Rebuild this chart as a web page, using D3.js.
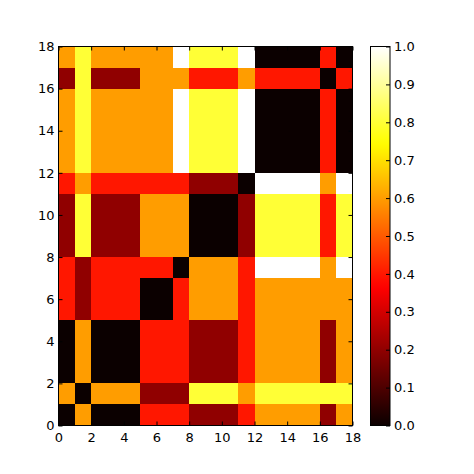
<!DOCTYPE html>
<html>
<head>
<meta charset="utf-8">
<script src="https://cdn.jsdelivr.net/npm/d3@7"></script>
<style>
  body { margin: 0; background: #fff; }
  text { font-family: "DejaVu Sans", sans-serif; font-size: 13px; fill: #000; }
</style>
</head>
<body>
<div id="chart"></div>
<script>
// Cell values, listed from the top row (y = 17) down to the bottom row (y = 0)
const rowsTopDown = [
  [.6, .8, .6, .6, .6, .6, .6, 1, .8, .8, .8, 1, 0, 0, 0, 0, .4, 0],
  [.2, .8, .2, .2, .2, .6, .6, .6, .4, .4, .4, .6, .4, .4, .4, .4, 0, .4],
  [.6, .8, .6, .6, .6, .6, .6, 1, .8, .8, .8, 1, 0, 0, 0, 0, .4, 0],
  [.6, .8, .6, .6, .6, .6, .6, 1, .8, .8, .8, 1, 0, 0, 0, 0, .4, 0],
  [.6, .8, .6, .6, .6, .6, .6, 1, .8, .8, .8, 1, 0, 0, 0, 0, .4, 0],
  [.6, .8, .6, .6, .6, .6, .6, 1, .8, .8, .8, 1, 0, 0, 0, 0, .4, 0],
  [.4, .6, .4, .4, .4, .4, .4, .4, .2, .2, .2, 0, 1, 1, 1, 1, .6, 1],
  [.2, .8, .2, .2, .2, .6, .6, .6, 0, 0, 0, .2, .8, .8, .8, .8, .4, .8],
  [.2, .8, .2, .2, .2, .6, .6, .6, 0, 0, 0, .2, .8, .8, .8, .8, .4, .8],
  [.2, .8, .2, .2, .2, .6, .6, .6, 0, 0, 0, .2, .8, .8, .8, .8, .4, .8],
  [.4, .2, .4, .4, .4, .4, .4, 0, .6, .6, .6, .4, 1, 1, 1, 1, .6, 1],
  [.4, .2, .4, .4, .4, 0, 0, .4, .6, .6, .6, .4, .6, .6, .6, .6, .6, .6],
  [.4, .2, .4, .4, .4, 0, 0, .4, .6, .6, .6, .4, .6, .6, .6, .6, .6, .6],
  [0, .6, 0, 0, 0, .4, .4, .4, .2, .2, .2, .4, .6, .6, .6, .6, .2, .6],
  [0, .6, 0, 0, 0, .4, .4, .4, .2, .2, .2, .4, .6, .6, .6, .6, .2, .6],
  [0, .6, 0, 0, 0, .4, .4, .4, .2, .2, .2, .4, .6, .6, .6, .6, .2, .6],
  [.6, 0, .6, .6, .6, .2, .2, .2, .8, .8, .8, .6, .8, .8, .8, .8, .8, .8],
  [0, .6, 0, 0, 0, .4, .4, .4, .2, .2, .2, .4, .6, .6, .6, .6, .2, .6]
];
const axisTicks = [0, 2, 4, 6, 8, 10, 12, 14, 16, 18];
const colorbarTicks = [0, .1, .2, .3, .4, .5, .6, .7, .8, .9, 1];

// matplotlib "hot" colormap
function hot(v) {
  const r = Math.min(1, 0.0416 + (1 - 0.0416) * v / 0.365079);
  const g = Math.max(0, Math.min(1, (v - 0.365079) / (0.746032 - 0.365079)));
  const b = Math.max(0, Math.min(1, (v - 0.746032) / (1 - 0.746032)));
  return d3.rgb(r * 255, g * 255, b * 255).formatHex();
}

const W = 474, H = 474;
const plot = { left: 58.5, right: 352.5, top: 46.5, bottom: 425.5 };
const cbar = { left: 370.5, right: 390, top: 46.5, bottom: 425.5 };

const svg = d3.select('#chart').append('svg')
  .attr('width', W).attr('height', H);

const n = rowsTopDown.length;
const x = d3.scaleLinear().domain([0, n]).range([plot.left, plot.right]);
const y = d3.scaleLinear().domain([0, n]).range([plot.bottom, plot.top]);

const cells = [];
rowsTopDown.forEach((row, i) => {
  const yi = n - 1 - i;
  row.forEach((v, xi) => cells.push({ xi, yi, v }));
});

svg.append('g')
  .attr('shape-rendering', 'crispEdges')
  .selectAll('rect')
  .data(cells)
  .join('rect')
  .attr('x', d => x(d.xi))
  .attr('y', d => y(d.yi + 1))
  .attr('width', d => x(d.xi + 1) - x(d.xi) + 0.5)
  .attr('height', d => y(d.yi) - y(d.yi + 1) + 0.5)
  .attr('fill', d => hot(d.v));

// Axes with inward ticks on all four sides
function styleAxis(g) {
  g.select('.domain').remove();
  g.selectAll('.tick line').attr('stroke', '#000');
  g.selectAll('text').style('font-family', '"DejaVu Sans", sans-serif').style('font-size', '13px');
}

svg.append('g')
  .attr('transform', `translate(0,${plot.bottom})`)
  .call(d3.axisBottom(x).tickValues(axisTicks).tickSize(-4).tickPadding(7).tickFormat(d3.format('d')))
  .call(styleAxis);
svg.append('g')
  .attr('transform', `translate(0,${plot.top})`)
  .call(d3.axisTop(x).tickValues(axisTicks).tickSize(-4).tickFormat(''))
  .call(styleAxis);
svg.append('g')
  .attr('transform', `translate(${plot.left},0)`)
  .call(d3.axisLeft(y).tickValues(axisTicks).tickSize(-4).tickPadding(4).tickFormat(d3.format('d')))
  .call(styleAxis);
svg.append('g')
  .attr('transform', `translate(${plot.right},0)`)
  .call(d3.axisRight(y).tickValues(axisTicks).tickSize(-4).tickFormat(''))
  .call(styleAxis);

svg.append('rect')
  .attr('x', plot.left).attr('y', plot.top)
  .attr('width', plot.right - plot.left).attr('height', plot.bottom - plot.top)
  .attr('fill', 'none').attr('stroke', '#000').attr('stroke-width', 1);

// Colorbar
const grad = svg.append('defs').append('linearGradient')
  .attr('id', 'hotGrad').attr('x1', 0).attr('y1', 1).attr('x2', 0).attr('y2', 0);
grad.selectAll('stop')
  .data(d3.range(0, 1.0001, 0.02))
  .join('stop')
  .attr('offset', d => d)
  .attr('stop-color', d => hot(d));

svg.append('rect')
  .attr('x', cbar.left).attr('y', cbar.top)
  .attr('width', cbar.right - cbar.left).attr('height', cbar.bottom - cbar.top)
  .attr('fill', 'url(#hotGrad)');

const cy = d3.scaleLinear().domain([0, 1]).range([cbar.bottom, cbar.top]);
svg.append('g')
  .attr('transform', `translate(${cbar.right},0)`)
  .call(d3.axisRight(cy).tickValues(colorbarTicks).tickSize(-4).tickPadding(4).tickFormat(d3.format('.1f')))
  .call(styleAxis);

svg.append('rect')
  .attr('x', cbar.left).attr('y', cbar.top)
  .attr('width', cbar.right - cbar.left).attr('height', cbar.bottom - cbar.top)
  .attr('fill', 'none').attr('stroke', '#000').attr('stroke-width', 1);
</script>
</body>
</html>
